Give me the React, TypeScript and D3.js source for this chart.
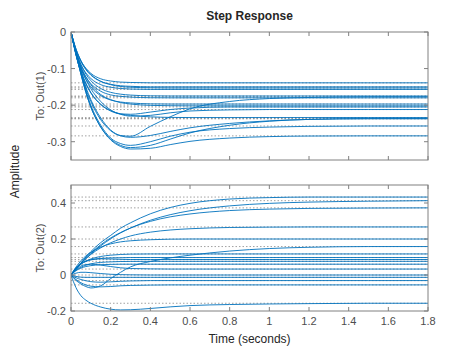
import React from "react";
import * as d3 from "d3";

// Sample times (seconds)
const TIME = [0, 0.025, 0.05, 0.075, 0.1, 0.15, 0.2, 0.25, 0.3, 0.4, 0.5, 0.6, 0.8, 1.0, 1.2, 1.5, 1.8];

// Out(1) step responses (values at TIME)
const OUT1 = [
  [0, -0.047, -0.079, -0.099, -0.113, -0.128, -0.134, -0.137, -0.138, -0.139, -0.139, -0.139, -0.139, -0.139, -0.139, -0.139, -0.139],
  [0, -0.048, -0.081, -0.103, -0.118, -0.135, -0.143, -0.147, -0.1485, -0.15, -0.15, -0.15, -0.15, -0.15, -0.15, -0.15, -0.15],
  [0, -0.046, -0.078, -0.101, -0.116, -0.135, -0.144, -0.149, -0.151, -0.1525, -0.153, -0.153, -0.153, -0.153, -0.153, -0.153, -0.153],
  [0, -0.054, -0.089, -0.112, -0.127, -0.144, -0.151, -0.1545, -0.156, -0.157, -0.157, -0.157, -0.157, -0.157, -0.157, -0.157, -0.157],
  [0, -0.0525, -0.089, -0.115, -0.133, -0.1545, -0.165, -0.17, -0.1725, -0.1745, -0.175, -0.175, -0.175, -0.175, -0.175, -0.175, -0.175],
  [0, -0.057, -0.097, -0.123, -0.141, -0.162, -0.172, -0.176, -0.178, -0.1797, -0.18, -0.18, -0.18, -0.18, -0.18, -0.18, -0.18],
  [0, -0.059, -0.1, -0.129, -0.15, -0.174, -0.186, -0.1915, -0.194, -0.1965, -0.197, -0.197, -0.197, -0.197, -0.197, -0.197, -0.197],
  [0, -0.054, -0.094, -0.123, -0.144, -0.171, -0.185, -0.193, -0.197, -0.2006, -0.2016, -0.202, -0.202, -0.202, -0.202, -0.202, -0.202],
  [0, -0.06, -0.105, -0.14, -0.165, -0.198, -0.216, -0.224, -0.225, -0.219, -0.212, -0.208, -0.205, -0.205, -0.205, -0.205, -0.205],
  [0, -0.055, -0.097, -0.13, -0.155, -0.19, -0.213, -0.225, -0.23, -0.228, -0.221, -0.216, -0.213, -0.212, -0.212, -0.212, -0.212],
  [0, -0.063, -0.109, -0.142, -0.167, -0.198, -0.215, -0.224, -0.228, -0.232, -0.2335, -0.234, -0.234, -0.234, -0.234, -0.234, -0.234],
  [0, -0.06, -0.11, -0.155, -0.19, -0.24, -0.27, -0.283, -0.285, -0.258, -0.232, -0.21, -0.19, -0.182, -0.179, -0.177, -0.177],
  [0, -0.06, -0.115, -0.165, -0.205, -0.26, -0.295, -0.313, -0.32, -0.318, -0.308, -0.299, -0.29, -0.286, -0.2845, -0.284, -0.284],
  [0, -0.06, -0.115, -0.165, -0.205, -0.26, -0.293, -0.31, -0.316, -0.31, -0.293, -0.276, -0.255, -0.244, -0.239, -0.237, -0.237],
  [0, -0.06, -0.113, -0.16, -0.2, -0.255, -0.29, -0.305, -0.31, -0.3, -0.285, -0.274, -0.264, -0.26, -0.258, -0.257, -0.257],
  [0, -0.055, -0.105, -0.15, -0.185, -0.235, -0.268, -0.284, -0.288, -0.283, -0.272, -0.262, -0.25, -0.243, -0.239, -0.237, -0.237],
];

// Out(2) step responses (values at TIME)
const OUT2 = [
  [0, 0.03, 0.065, 0.1, 0.13, 0.18, 0.22, 0.26, 0.29, 0.34, 0.375, 0.398, 0.422, 0.43, 0.433, 0.433, 0.433],
  [0, 0.034, 0.064, 0.091, 0.117, 0.162, 0.201, 0.234, 0.261, 0.304, 0.335, 0.357, 0.384, 0.398, 0.405, 0.41, 0.413],
  [0, 0.035, 0.068, 0.097, 0.123, 0.168, 0.206, 0.236, 0.261, 0.298, 0.323, 0.339, 0.358, 0.366, 0.37, 0.372, 0.373],
  [0, 0.035, 0.065, 0.091, 0.114, 0.151, 0.179, 0.2, 0.217, 0.238, 0.25, 0.257, 0.264, 0.266, 0.267, 0.267, 0.267],
  [0, 0.044, 0.079, 0.106, 0.126, 0.155, 0.173, 0.184, 0.19, 0.196, 0.199, 0.2, 0.2, 0.2, 0.2, 0.2, 0.2],
  [0, -0.03, -0.05, -0.064, -0.072, -0.06, -0.02, 0.015, 0.045, 0.075, 0.095, 0.11, 0.133, 0.147, 0.154, 0.158, 0.158],
  [0, 0.035, 0.06, 0.077, 0.089, 0.103, 0.11, 0.114, 0.116, 0.117, 0.117, 0.117, 0.117, 0.117, 0.117, 0.117, 0.117],
  [0, 0.038, 0.061, 0.075, 0.084, 0.092, 0.095, 0.096, 0.097, 0.097, 0.097, 0.097, 0.097, 0.097, 0.097, 0.097, 0.097],
  [0, 0.04, 0.065, 0.078, 0.085, 0.09, 0.089, 0.087, 0.086, 0.086, 0.086, 0.086, 0.086, 0.086, 0.086, 0.086, 0.086],
  [0, 0.026, 0.043, 0.054, 0.062, 0.07, 0.073, 0.075, 0.0755, 0.076, 0.076, 0.076, 0.076, 0.076, 0.076, 0.076, 0.076],
  [0, 0.024, 0.038, 0.047, 0.052, 0.057, 0.059, 0.06, 0.06, 0.06, 0.06, 0.06, 0.06, 0.06, 0.06, 0.06, 0.06],
  [0, 0.03, 0.05, 0.058, 0.06, 0.055, 0.047, 0.04, 0.036, 0.034, 0.033, 0.033, 0.033, 0.033, 0.033, 0.033, 0.033],
  [0, 0.01, 0.015, 0.015, 0.013, 0.008, 0.004, 0.002, 0.001, 0, 0, 0, 0, 0, 0, 0, 0],
  [0, -0.008, -0.012, -0.013, -0.013, -0.013, -0.013, -0.013, -0.013, -0.013, -0.013, -0.013, -0.013, -0.013, -0.013, -0.013, -0.013],
  [0, -0.015, -0.025, -0.032, -0.037, -0.04, -0.038, -0.035, -0.033, -0.031, -0.031, -0.031, -0.031, -0.031, -0.031, -0.031, -0.031],
  [0, -0.025, -0.043, -0.055, -0.062, -0.066, -0.064, -0.06, -0.058, -0.056, -0.055, -0.055, -0.055, -0.055, -0.055, -0.055, -0.055],
  [0, -0.07, -0.115, -0.14, -0.157, -0.178, -0.19, -0.194, -0.193, -0.186, -0.177, -0.17, -0.164, -0.161, -0.159, -0.157, -0.157],
];

const X_TICKS = [0, 0.2, 0.4, 0.6, 0.8, 1, 1.2, 1.4, 1.6, 1.8];
const Y1_TICKS = [0, -0.1, -0.2, -0.3];
const Y2_TICKS = [-0.2, 0, 0.2, 0.4];

const W = 474, H = 355;
const L = 71, R = 428;
const P1 = { top: 32, bottom: 160, domain: [-0.35, 0] as [number, number] };
const P2 = { top: 185, bottom: 311, domain: [-0.2, 0.5] as [number, number] };

const BLUE = "#0072BD";
const AXIS = "#808080";
const TICKTXT = "#4d4d4d";
const FONT = "Liberation Sans, Arial, Helvetica, sans-serif";

function fmt(v: number) {
  if (Math.abs(v) < 1e-9) return "0";
  return String(+v.toFixed(2));
}

function Panel({ series, cfg, yTicks, showX, label, id }: any) {
  const x = d3.scaleLinear().domain([0, 1.8]).range([L, R]);
  const y = d3.scaleLinear().domain(cfg.domain).range([cfg.bottom, cfg.top]);
  const line = d3
    .line<number>()
    .x((_, i) => x(TIME[i]))
    .y((d) => y(d))
    .curve(d3.curveMonotoneX);
  const finals = series.map((s: number[]) => s[s.length - 1]);
  const tl = 4;
  return (
    <g>
      <defs>
        <clipPath id={id}>
          <rect x={L} y={cfg.top} width={R - L} height={cfg.bottom - cfg.top} />
        </clipPath>
      </defs>
      <rect x={L} y={cfg.top} width={R - L} height={cfg.bottom - cfg.top} fill="#fff" />
      <g clipPath={`url(#${id})`}>
        {finals.map((f: number, i: number) => (
          <line key={"f" + i} x1={L} x2={R} y1={y(f)} y2={y(f)} stroke="#8a8a8a" strokeWidth={0.8} strokeDasharray="1.5,2" />
        ))}
        {series.map((s: number[], i: number) => (
          <path key={"s" + i} d={line(s) || ""} fill="none" stroke={BLUE} strokeWidth={0.9} />
        ))}
      </g>
      <rect x={L} y={cfg.top} width={R - L} height={cfg.bottom - cfg.top} fill="none" stroke={AXIS} strokeWidth={1} />
      {X_TICKS.map((t) => (
        <g key={"xt" + t}>
          <line x1={x(t)} x2={x(t)} y1={cfg.bottom} y2={cfg.bottom - tl} stroke={AXIS} />
          <line x1={x(t)} x2={x(t)} y1={cfg.top} y2={cfg.top + tl} stroke={AXIS} />
          {showX && (
            <text x={x(t)} y={cfg.bottom + 14} textAnchor="middle" fontSize={11} fill={TICKTXT} fontFamily={FONT}>
              {fmt(t)}
            </text>
          )}
        </g>
      ))}
      {yTicks.map((t: number) => (
        <g key={"yt" + t}>
          <line x1={L} x2={L + tl} y1={y(t)} y2={y(t)} stroke={AXIS} />
          <line x1={R} x2={R - tl} y1={y(t)} y2={y(t)} stroke={AXIS} />
          <text x={L - 5} y={y(t) + 4} textAnchor="end" fontSize={11} fill={TICKTXT} fontFamily={FONT}>
            {fmt(t)}
          </text>
        </g>
      ))}
      <text
        transform={`translate(44,${(cfg.top + cfg.bottom) / 2}) rotate(-90)`}
        textAnchor="middle"
        fontSize={11}
        fill={TICKTXT}
        fontFamily={FONT}
      >
        {label}
      </text>
    </g>
  );
}

export default function App() {
  return (
    <svg width={W} height={H} style={{ position: "absolute", left: 0, top: 0, background: "#fff" }}>
      <rect width={W} height={H} fill="#fff" />
      <text x={(L + R) / 2} y={20} textAnchor="middle" fontSize={12} fontWeight="bold" fill="#262626" fontFamily={FONT}>
        Step Response
      </text>
      <Panel series={OUT1} cfg={P1} yTicks={Y1_TICKS} showX={false} label="To: Out(1)" id="c1" />
      <Panel series={OUT2} cfg={P2} yTicks={Y2_TICKS} showX={true} label="To: Out(2)" id="c2" />
      <text
        transform={`translate(19,${(P1.top + P2.bottom) / 2}) rotate(-90)`}
        textAnchor="middle"
        fontSize={12}
        fill="#262626"
        fontFamily={FONT}
      >
        Amplitude
      </text>
      <text x={(L + R) / 2} y={343} textAnchor="middle" fontSize={12} fill="#262626" fontFamily={FONT}>
        Time (seconds)
      </text>
    </svg>
  );
}
